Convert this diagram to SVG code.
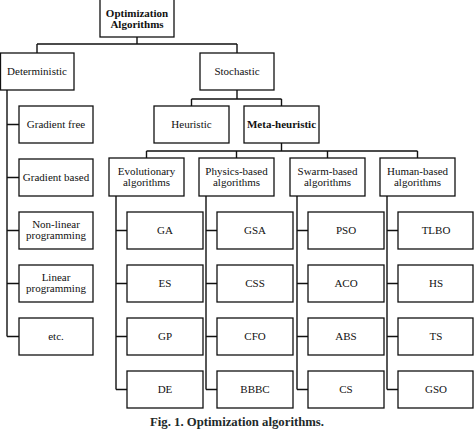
<svg xmlns="http://www.w3.org/2000/svg" width="474" height="432" viewBox="0 0 474 432">
<style>
.b{fill:#fff;stroke:#111;stroke-width:1.3}
.t{font-family:"Liberation Serif","Times New Roman",serif;font-size:11px;fill:#111;text-anchor:middle}
.bd{font-weight:bold}
.c{fill:none;stroke:#111;stroke-width:1.4}
.cap{font-family:"Liberation Serif","Times New Roman",serif;font-size:12px;font-weight:bold;fill:#1e2a2a;text-anchor:middle}
</style>
<rect width="474" height="432" fill="#fff"/>
<g id="connectors">
<path class="c" d="M137 37V44M37 44H237M37 44V53M237 44V53"/>
<path class="c" d="M7 90V336.5M7 124.5H19M7 177.5H19M7 230.5H19M7 283.5H19M7 336.5H19"/>
<path class="c" d="M237 90V99M191.5 99H281.5M191.5 99V106M281.5 99V106"/>
<path class="c" d="M281.5 143V151M146.5 151H417.5M146.5 151V158M236.5 151V158M327.5 151V158M417.5 151V158"/>
<path class="c" d="M116 196V389.5M116 230.5H127M116 283.5H127M116 336.5H127M116 389.5H127"/>
<path class="c" d="M206 196V389.5M206 230.5H217M206 283.5H217M206 336.5H217M206 389.5H217"/>
<path class="c" d="M297 196V389.5M297 230.5H308M297 283.5H308M297 336.5H308M297 389.5H308"/>
<path class="c" d="M387 196V389.5M387 230.5H398M387 283.5H398M387 336.5H398M387 389.5H398"/>
</g>
<g id="root"><rect class="b" x="100" y="-1" width="74" height="38"/><text class="t bd" x="137" y="17">Optimization</text><text class="t bd" x="137" y="28">Algorithms</text></g>
<g id="deterministic"><rect class="b" x="0.5" y="53" width="73.5" height="37"/><text class="t" x="37" y="75">Deterministic</text></g>
<g id="stochastic"><rect class="b" x="200" y="53" width="74" height="37"/><text class="t" x="237" y="75">Stochastic</text></g>
<g id="gradient-free"><rect class="b" x="19" y="106" width="74" height="37"/><text class="t" x="56" y="128">Gradient free</text></g>
<g id="gradient-based"><rect class="b" x="19" y="159" width="74" height="37"/><text class="t" x="56" y="181">Gradient based</text></g>
<g id="non-linear"><rect class="b" x="19" y="212" width="74" height="37"/><text class="t" x="56" y="228">Non-linear</text><text class="t" x="56" y="239">programming</text></g>
<g id="linear"><rect class="b" x="19" y="265" width="74" height="37"/><text class="t" x="56" y="281">Linear</text><text class="t" x="56" y="292">programming</text></g>
<g id="etc"><rect class="b" x="19" y="318" width="74" height="37"/><text class="t" x="56" y="340">etc.</text></g>
<g id="heuristic"><rect class="b" x="154" y="106" width="75" height="37"/><text class="t" x="191.5" y="128">Heuristic</text></g>
<g id="meta-heuristic"><rect class="b" x="244" y="106" width="75" height="37"/><text class="t bd" x="281.5" y="128">Meta-heuristic</text></g>
<g id="evolutionary"><rect class="b" x="109" y="158" width="75" height="38"/><text class="t" x="146.5" y="175">Evolutionary</text><text class="t" x="146.5" y="186">algorithms</text></g>
<g id="physics"><rect class="b" x="199" y="158" width="75" height="38"/><text class="t" x="236.5" y="175">Physics-based</text><text class="t" x="236.5" y="186">algorithms</text></g>
<g id="swarm"><rect class="b" x="290" y="158" width="75" height="38"/><text class="t" x="327.5" y="175">Swarm-based</text><text class="t" x="327.5" y="186">algorithms</text></g>
<g id="human"><rect class="b" x="380" y="158" width="75" height="38"/><text class="t" x="417.5" y="175">Human-based</text><text class="t" x="417.5" y="186">algorithms</text></g>
<g id="ga"><rect class="b" x="127" y="212" width="76" height="37"/><text class="t" x="165" y="234">GA</text></g>
<g id="es"><rect class="b" x="127" y="265" width="76" height="37"/><text class="t" x="165" y="287">ES</text></g>
<g id="gp"><rect class="b" x="127" y="318" width="76" height="37"/><text class="t" x="165" y="340">GP</text></g>
<g id="de"><rect class="b" x="127" y="371" width="76" height="37"/><text class="t" x="165" y="393">DE</text></g>
<g id="gsa"><rect class="b" x="217" y="212" width="76" height="37"/><text class="t" x="255" y="234">GSA</text></g>
<g id="css"><rect class="b" x="217" y="265" width="76" height="37"/><text class="t" x="255" y="287">CSS</text></g>
<g id="cfo"><rect class="b" x="217" y="318" width="76" height="37"/><text class="t" x="255" y="340">CFO</text></g>
<g id="bbbc"><rect class="b" x="217" y="371" width="76" height="37"/><text class="t" x="255" y="393">BBBC</text></g>
<g id="pso"><rect class="b" x="308" y="212" width="76" height="37"/><text class="t" x="346" y="234">PSO</text></g>
<g id="aco"><rect class="b" x="308" y="265" width="76" height="37"/><text class="t" x="346" y="287">ACO</text></g>
<g id="abs"><rect class="b" x="308" y="318" width="76" height="37"/><text class="t" x="346" y="340">ABS</text></g>
<g id="cs"><rect class="b" x="308" y="371" width="76" height="37"/><text class="t" x="346" y="393">CS</text></g>
<g id="tlbo"><rect class="b" x="398" y="212" width="75" height="37"/><text class="t" x="436" y="234">TLBO</text></g>
<g id="hs"><rect class="b" x="398" y="265" width="75" height="37"/><text class="t" x="436" y="287">HS</text></g>
<g id="ts"><rect class="b" x="398" y="318" width="75" height="37"/><text class="t" x="436" y="340">TS</text></g>
<g id="gso"><rect class="b" x="398" y="371" width="75" height="37"/><text class="t" x="436" y="393">GSO</text></g>
<text class="cap" x="237" y="426" textLength="174" lengthAdjust="spacingAndGlyphs">Fig. 1. Optimization algorithms.</text>
</svg>
